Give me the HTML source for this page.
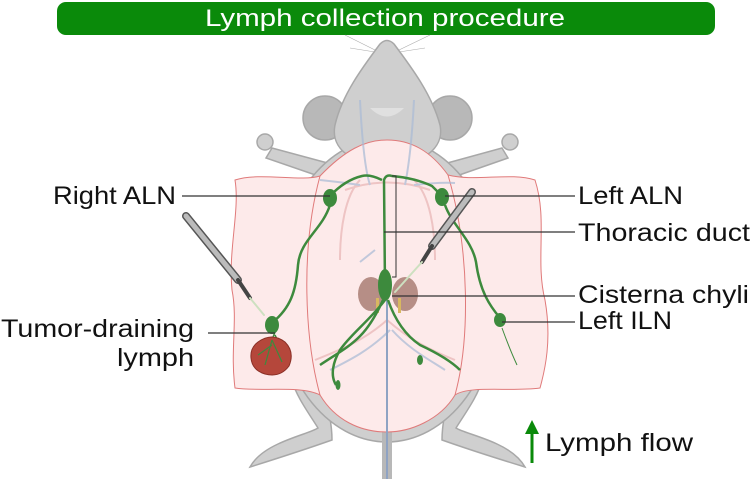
<!DOCTYPE html>
<html><head><meta charset="utf-8"><style>
html,body{margin:0;padding:0;background:#fff;width:753px;height:479px;overflow:hidden}
svg{display:block}
text{font-family:"Liberation Sans",sans-serif}
</style></head><body>
<svg width="753" height="479" viewBox="0 0 753 479" xmlns="http://www.w3.org/2000/svg">
<rect x="57" y="2" width="658" height="33" rx="9" fill="#0a8a0a"/>
<text x="205" y="26" font-size="24" fill="#fff" textLength="360" lengthAdjust="spacingAndGlyphs">Lymph collection procedure</text>

<!-- mouse body -->
<g fill="#cfcfcf" stroke="#a8a8a8" stroke-width="1.5">
<path d="M292,380 L322,385 C328,405 332,425 332,440 C315,446 285,456 250,467 C255,458 265,450 278,444 C295,436 312,432 318,428 C308,412 296,396 292,380Z"/>
<path d="M482,380 L452,385 C446,405 442,425 442,440 C459,446 489,456 525,467 C520,458 510,450 497,444 C480,436 462,432 456,428 C466,412 478,396 482,380Z"/>
<path d="M335,165 L272,148 L266,158 L330,180Z"/>
<path d="M440,165 L502,148 L508,158 L445,180Z"/>
<circle cx="265" cy="142" r="8"/><circle cx="510" cy="142" r="8"/>
<ellipse cx="387" cy="290" rx="112" ry="152"/>
<circle cx="325" cy="118" r="22" fill="#b8b8b8"/>
<circle cx="450" cy="118" r="22" fill="#b8b8b8"/>
<path d="M380,44 Q387,37 394,44 C412,68 432,95 440,125 C445,150 420,165 387,165 C354,165 330,150 335,125 C342,95 362,68 380,44Z"/>
</g>
<path d="M370,108 Q387,125 404,108" fill="#e0e0e0" stroke="none"/>
<rect x="382" y="420" width="10" height="59" fill="#b8b8b8"/>
<line x1="387" y1="140" x2="387" y2="479" stroke="#8fa3c3" stroke-width="2"/>
<g stroke="#aaa" stroke-width="0.6" fill="none">
<path d="M375,50 L345,35 M375,52 L350,48 M399,50 L430,35 M399,52 L425,48"/>
</g>

<!-- skin flap -->
<path d="M235,180 C260,172 300,182 320,176 C345,150 365,140 387,140 C410,140 430,150 448,175 C475,182 510,172 535,180 C548,220 535,260 545,300 C552,340 545,370 540,388 C510,392 470,385 455,395 C440,420 410,432 387,432 C360,432 335,420 320,395 C300,385 260,392 235,388 C230,350 238,320 232,290 C228,250 240,210 235,180Z" fill="#fdeaea" stroke="#e07a7a" stroke-width="1"/>
<path d="M320,176 C300,250 305,340 320,395 M448,175 C470,250 470,340 455,395" fill="none" stroke="#e07a7a" stroke-width="1"/>
<!-- vessels -->
<g fill="none" stroke-width="2" opacity="0.7">
<path d="M360,180 C345,195 340,230 340,260 M414,180 C430,195 435,230 435,260 M345,190 Q387,175 430,190" stroke="#e8b4b4"/>
<path d="M360,100 C362,140 365,170 370,185 M414,100 C412,140 408,170 405,185 M360,185 Q340,182 320,180 M414,185 Q440,182 455,183 M375,250 L360,262 M390,330 C370,350 350,360 330,370 M392,330 C410,350 430,360 445,370" stroke="#a9bbd6"/>
<path d="M387,320 C365,340 340,350 315,360 M387,320 C410,340 430,350 455,360" stroke="#e8b4b4"/>
</g>
<line x1="387" y1="300" x2="387" y2="479" stroke="#8fa3c3" stroke-width="2"/>
<!-- kidneys -->
<ellipse cx="371" cy="294" rx="13" ry="17" fill="#a97e74" opacity="0.85"/>
<ellipse cx="405" cy="294" rx="13" ry="17" fill="#a97e74" opacity="0.85"/>
<rect x="376" y="298" width="3" height="15" fill="#d8b860"/><rect x="398" y="298" width="3" height="15" fill="#d8b860"/>

<!-- green lymph -->
<g fill="none" stroke="#3d8a3d" stroke-width="2.5">
<path d="M385,288 L384,180 Q386,174 392,176 Q415,178 432,186 L442,196"/>
<path d="M382,180 Q370,174 362,176 Q345,180 330,196"/>
<path d="M330,205 C322,230 300,240 298,265 C296,292 290,308 273,322"/>
<path d="M445,205 C452,225 472,240 476,262 C480,292 490,306 500,318"/>
<path d="M385,300 C370,320 350,335 340,350 C333,362 330,375 336,385 M388,300 C395,320 405,335 420,345 C435,352 450,360 460,370 M383,300 C365,340 350,345 320,365"/>
<path d="M275,332 L270,345 M275,335 L282,350 M270,345 L262,360 M270,345 L278,368" stroke-width="1.5"/>
<path d="M502,328 Q510,350 517,365" stroke-width="1"/>
</g>
<ellipse cx="330" cy="198" rx="7" ry="9" fill="#3d8a3d"/>
<ellipse cx="442" cy="197" rx="7" ry="9" fill="#3d8a3d"/>
<ellipse cx="272" cy="325" rx="7" ry="9" fill="#3d8a3d"/>
<ellipse cx="500" cy="320" rx="6" ry="7" fill="#3d8a3d"/>
<ellipse cx="385" cy="285" rx="7" ry="16" fill="#3d8a3d"/>
<ellipse cx="338" cy="385" rx="2.5" ry="5" fill="#3d8a3d"/>
<ellipse cx="420" cy="360" rx="3" ry="5" fill="#3d8a3d"/>
<!-- tumor -->
<path d="M258,342 Q272,332 285,342 Q295,352 289,366 Q280,378 265,374 Q252,370 251,358 Q250,348 258,342Z" fill="#b5473b" stroke="#8a2f26"/>
<path d="M272,340 L265,365 M272,340 L282,362 M272,345 L258,355" stroke="#3d8a3d" stroke-width="1.2" fill="none"/>

<!-- syringes -->
<g stroke-linecap="round">
<line x1="186" y1="216" x2="238" y2="280" stroke="#555" stroke-width="8"/>
<line x1="186" y1="216" x2="238" y2="280" stroke="#bbb" stroke-width="5"/>
<line x1="238" y1="280" x2="250" y2="298" stroke="#444" stroke-width="4"/>
<line x1="250" y1="298" x2="264" y2="315" stroke="#cde0c0" stroke-width="2"/>
<line x1="472" y1="192" x2="432" y2="246" stroke="#555" stroke-width="8"/>
<line x1="472" y1="192" x2="432" y2="246" stroke="#bbb" stroke-width="5"/>
<line x1="432" y1="246" x2="422" y2="262" stroke="#444" stroke-width="4"/>
<line x1="422" y1="262" x2="395" y2="292" stroke="#cde0c0" stroke-width="2"/>
</g>

<!-- label lines -->
<g stroke="#333" stroke-width="1.3" fill="none">
<line x1="182" y1="196" x2="330" y2="196"/>
<line x1="445" y1="196" x2="575" y2="196"/>
<line x1="384" y1="232" x2="575" y2="232"/>
<line x1="392" y1="296" x2="575" y2="296"/>
<line x1="502" y1="322" x2="575" y2="322"/>
<line x1="208" y1="333" x2="275" y2="333"/>
<path d="M392,176 L396,176 L396,277 L392,277" stroke-width="1"/>
</g>
<g font-size="25" fill="#111" lengthAdjust="spacingAndGlyphs">
<text x="53" y="204" textLength="123" lengthAdjust="spacingAndGlyphs">Right ALN</text>
<text x="578" y="204" textLength="105" lengthAdjust="spacingAndGlyphs">Left ALN</text>
<text x="578" y="241" textLength="172" lengthAdjust="spacingAndGlyphs">Thoracic duct</text>
<text x="578" y="303" textLength="171" lengthAdjust="spacingAndGlyphs">Cisterna chyli</text>
<text x="578" y="329" textLength="94" lengthAdjust="spacingAndGlyphs">Left ILN</text>
<text x="1" y="337" textLength="193" lengthAdjust="spacingAndGlyphs">Tumor-draining</text>
<text x="117" y="366" textLength="77" lengthAdjust="spacingAndGlyphs">lymph</text>
<text x="545" y="451" textLength="148" lengthAdjust="spacingAndGlyphs">Lymph flow</text>
</g>
<line x1="532" y1="463" x2="532" y2="432" stroke="#0a8a0a" stroke-width="3"/>
<path d="M525,434 L532,420 L539,434Z" fill="#0a8a0a"/>
</svg>
</body></html>
